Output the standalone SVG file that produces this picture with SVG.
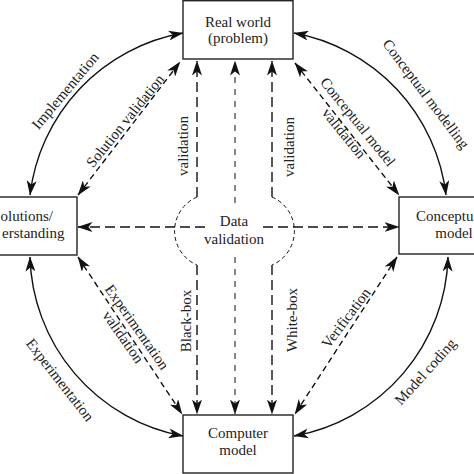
<svg xmlns="http://www.w3.org/2000/svg" width="474" height="474" viewBox="0 0 474 474">
<style>
.box{fill:#fff;stroke:#222;stroke-width:1.4}
.t{font-family:"Liberation Serif","Times New Roman",serif;font-size:15px;fill:#222;text-anchor:middle}
.s{text-anchor:start}
.ln{fill:none;stroke:#111;stroke-width:1.4}
.solid{marker-start:url(#ah);marker-end:url(#ah)}
.dd{stroke-dasharray:6 4}
.dl{stroke-dasharray:10 5}
.dt{stroke-width:1;stroke-dasharray:6 6}
.dc{stroke-width:1;stroke-dasharray:4 3}
</style>
<defs>
<marker id="ah" viewBox="0 0 15 10" refX="14.5" refY="5" markerWidth="15" markerHeight="10" markerUnits="userSpaceOnUse" orient="auto-start-reverse">
<path d="M0,0 L15,5 L0,10 L4,5 z" fill="#111"/>
</marker>
</defs>
<rect width="474" height="474" fill="#fff"/>

<g id="connectors">
<path class="ln solid" d="M30,195 A187,187 0 0 1 183,33"/>
<path class="ln solid" d="M294,33 A187,187 0 0 1 446,195"/>
<path class="ln solid" d="M30,257 A187,187 0 0 0 183,436"/>
<path class="ln solid" d="M448,257 A187,187 0 0 1 294,436"/>
<path class="ln dd solid" d="M78,195 L180,62"/>
<path class="ln dd solid" d="M295,63 L399,195"/>
<path class="ln dd solid" d="M78,257 L182,414"/>
<path class="ln dd solid" d="M397,257 L295,414"/>
<path class="ln dl" d="M197,197 L197,61" marker-end="url(#ah)"/>
<path class="ln dl" d="M197,265 L197,414" marker-end="url(#ah)"/>
<path class="ln dl" d="M272,197 L272,61" marker-end="url(#ah)"/>
<path class="ln dl" d="M272,265 L272,414" marker-end="url(#ah)"/>
<path class="ln dt" d="M235,203 L235,61" marker-end="url(#ah)"/>
<path class="ln dt" d="M235,257 L235,414" marker-end="url(#ah)"/>
<path class="ln dl" d="M205,227 L78,227" marker-end="url(#ah)"/>
<path class="ln dl" d="M263,227 L399,227" marker-end="url(#ah)"/>
</g>

<g id="connector-labels">
<text class="t" transform="translate(69,94) rotate(-50)">Implementation</text>
<text class="t" transform="translate(422,97) rotate(53)">Conceptual modelling</text>
<text class="t" transform="translate(56,383) rotate(52)">Experimentation</text>
<text class="t" transform="translate(429,375) rotate(-48)">Model coding</text>
<text class="t" transform="translate(129,124) rotate(-51)">Solution validation</text>
<text class="t" transform="translate(354,125) rotate(51)">Conceptual model</text>
<text class="t" transform="translate(354,125) rotate(51) translate(0,18)">validation</text>
<text class="t" transform="translate(133,330) rotate(55)">Experimentation</text>
<text class="t" transform="translate(133,330) rotate(55) translate(0,17)">validation</text>
<text class="t" transform="translate(350,321) rotate(-53)">Verification</text>
<text class="t" transform="translate(188,146) rotate(-90)">validation</text>
<text class="t" transform="translate(294,147) rotate(-90)">validation</text>
<text class="t" transform="translate(191,321) rotate(-90)">Black-box</text>
<text class="t" transform="translate(297,320) rotate(-90)">White-box</text>
</g>

<g id="node-data-validation">
<path class="ln dc" d="M197,197 A37,37 0 0 0 197,265"/>
<path class="ln dc" d="M272,197 A37,37 0 0 1 272,265"/>
<text class="t" x="234" y="226">Data</text>
<text class="t" x="234" y="244">validation</text>
</g>

<g id="node-real-world">
<rect class="box" x="183" y="0.7" width="110" height="58.3"/>
<text class="t" x="238" y="27">Real world</text>
<text class="t" x="238" y="43">(problem)</text>
</g>

<g id="node-solutions">
<rect class="box" x="-33" y="197" width="110" height="58"/>
<text class="t s" x="0.5" y="221">olutions/</text>
<text class="t s" x="2" y="238">erstanding</text>
</g>

<g id="node-conceptual-model">
<rect class="box" x="399" y="197" width="110" height="57"/>
<text class="t s" x="416" y="221">Conceptu</text>
<text class="t" x="454" y="238">model</text>
</g>

<g id="node-computer-model">
<rect class="box" x="183" y="415" width="110" height="58"/>
<text class="t" x="238" y="438">Computer</text>
<text class="t" x="238" y="455">model</text>
</g>
</svg>
